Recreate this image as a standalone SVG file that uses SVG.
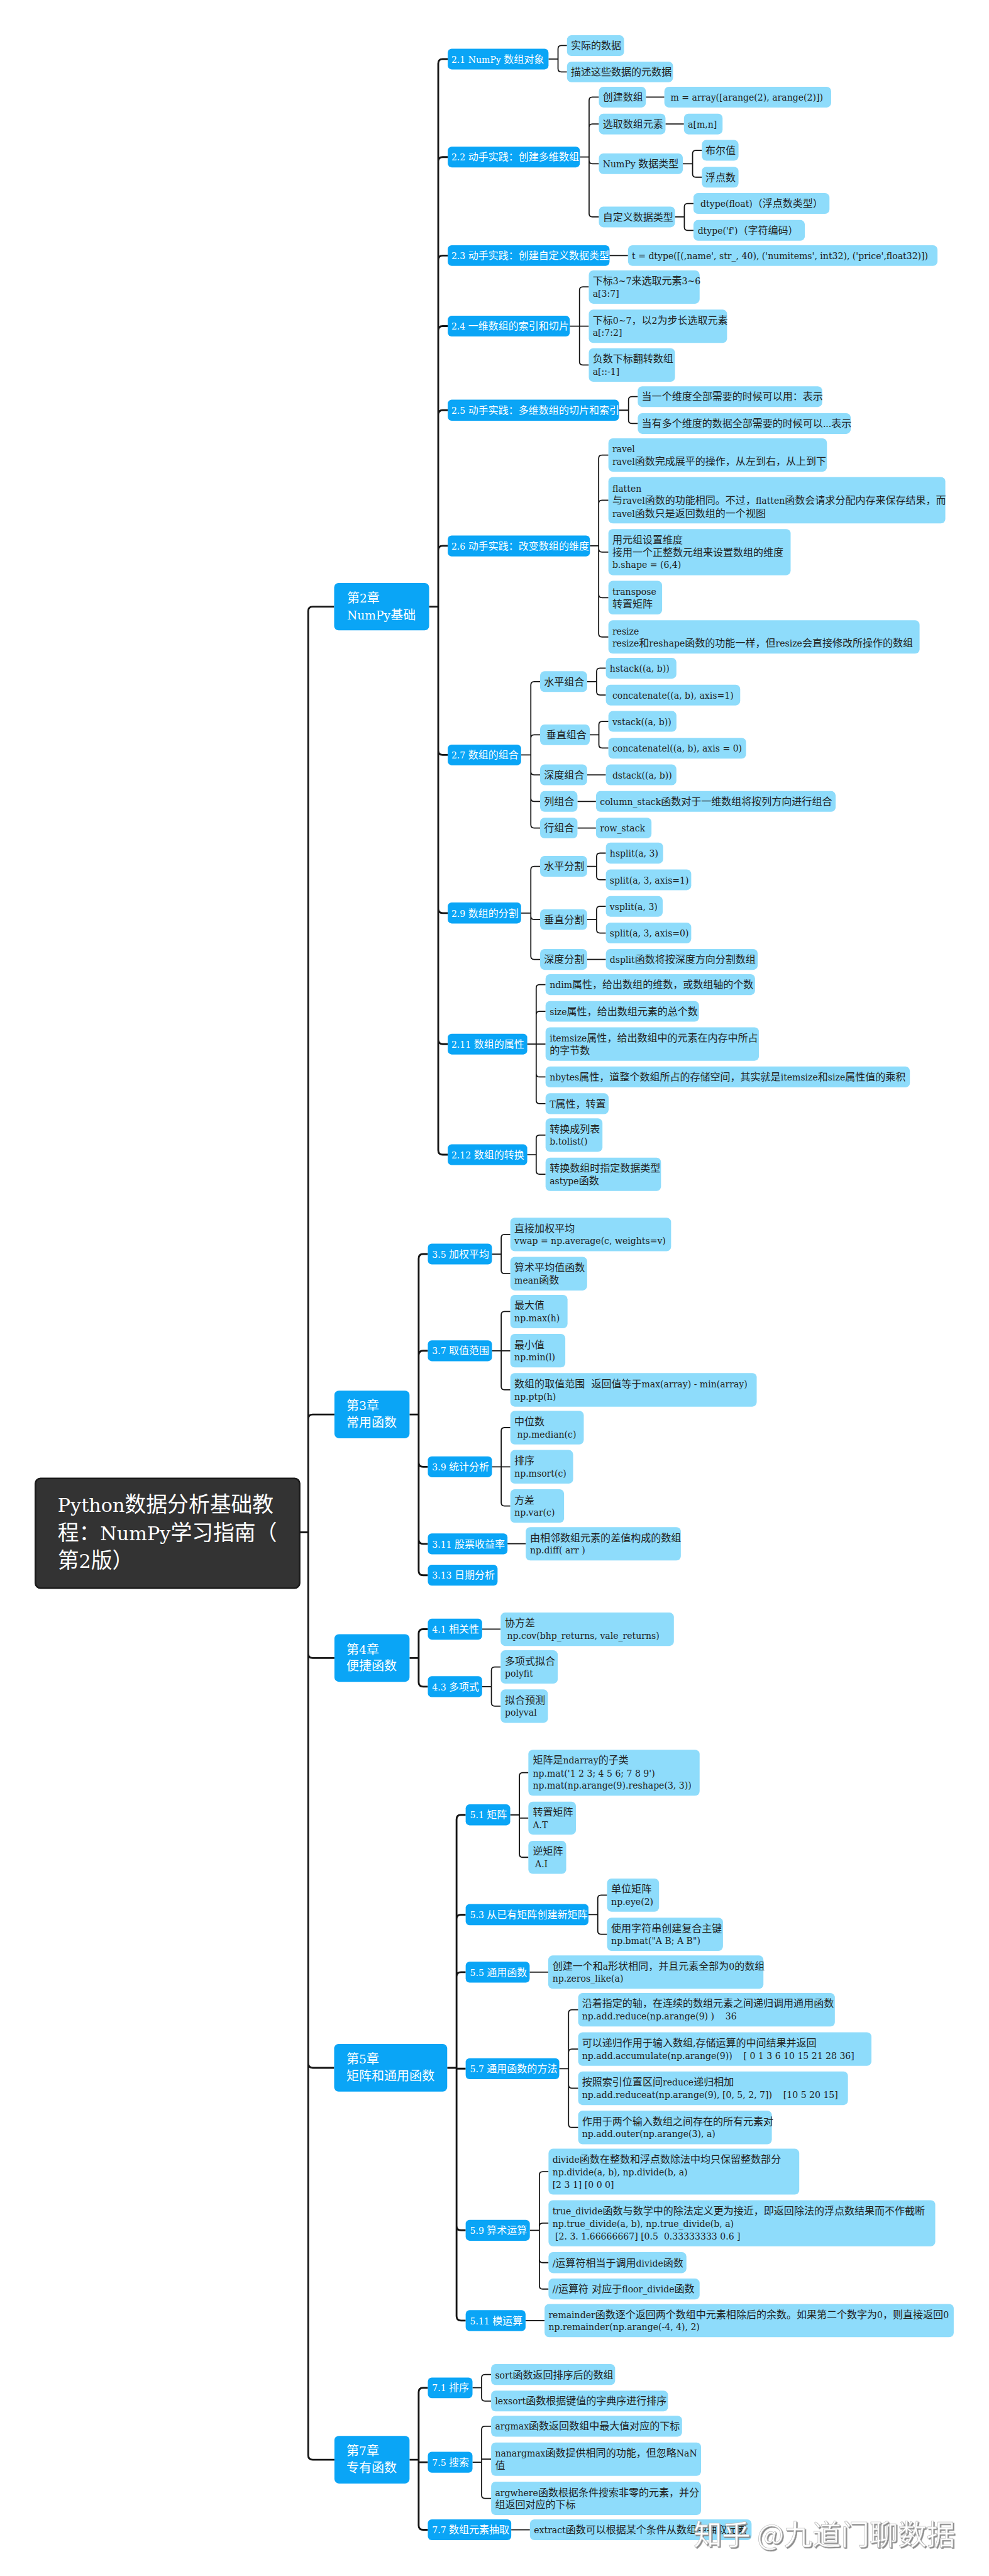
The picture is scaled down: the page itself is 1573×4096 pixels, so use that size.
<svg xmlns="http://www.w3.org/2000/svg" width="1573" height="4096" viewBox="0 0 1573 4096">
<defs>
<style>
text{font-family:"DejaVu Serif","Noto Sans CJK SC",sans-serif;font-size:18px;fill:#222}
.l{font-size:15.8px}
.a rect{fill:#8edcfb}
.b rect{fill:#0aa5f6}
.b text{fill:#fff}
.c rect{fill:#0aa5f6}
.c text{fill:#fff;font-size:22.5px}
.c .l{font-size:21px}
.r rect{fill:#333;stroke:#1a1a1a;stroke-width:3}
.r text{fill:#fff;font-size:38px}
.r .l{font-size:34px}
.k{fill:none;stroke:#151515;stroke-width:3.2}
.s{fill:none;stroke:#151515;stroke-width:2}
.wm{font-family:"Noto Sans CJK SC",sans-serif;font-size:51px;fill:#fff;stroke:#bbb;stroke-width:.8;filter:url(#ws)}
</style>
<filter id="ws" x="-5%" y="-20%" width="110%" height="140%"><feDropShadow dx="2" dy="2" stdDeviation=".6" flood-color="#888"/></filter>
</defs>
<rect width="1573" height="4096" fill="#fff"/>
<g transform="scale(.8902)">
<g id="connectors">
<path class="k" d="M535.4 2737H550.7M550.7 2737V1091.6q0-8 8-8H597M550.7 2737V2534.5q0-8 8-8H597.5M550.7 2737V2953.5q0 8 8 8H597.5M550.7 2737V3685.5q0 8 8 8H597M550.7 2737V4385.5q0 8 8 8H597.5"/>
<path class="k" d="M766.7 1083.6H783M783 1083.6V113.5q0-8 8-8H800M783 1083.6V288.5q0-8 8-8H800M783 1083.6V464.5q0-8 8-8H800M783 1083.6V590.5q0-8 8-8H800M783 1083.6V740.7q0-8 8-8H800M783 1083.6V983q0-8 8-8H800M783 1083.6V1340.5q0 8 8 8H800M783 1083.6V1623q0 8 8 8H800M783 1083.6V1857q0 8 8 8H800M783 1083.6V2054.5q0 8 8 8H800"/>
<path class="k" d="M731.7 2526.5H748M748 2526.5V2248q0-8 8-8H764.4M748 2526.5V2420.7q0-8 8-8H764.4M748 2526.5V2612q0 8 8 8H764.4M748 2526.5V2749.7q0 8 8 8H764.4M748 2526.5V2805.7q0 8 8 8H764.4"/>
<path class="k" d="M731.7 2961.5H748M748 2961.5V2918q0-8 8-8H764.4M748 2961.5V3004.7q0 8 8 8H764.4"/>
<path class="k" d="M799 3693.5H815.7M815.7 3693.5V3249.7q0-8 8-8H832M815.7 3693.5V3428q0-8 8-8H832M815.7 3693.5V3530.7q0-8 8-8H832M815.7 3695H832M815.7 3693.5V3975.7q0 8 8 8H832M815.7 3693.5V4137q0 8 8 8H832"/>
<path class="k" d="M731.7 4393.5H748M748 4393.5V4273q0-8 8-8H764.4M748 4393.5V4398H764.4M748 4393.5V4510.7q0 8 8 8H764.4"/>
<path class="s" d="M980 105.5H997M997 105.5V87.3q0-6 6-6H1013M997 105.5V122.5q0 6 6 6H1013"/>
<path class="s" d="M1036 280.5H1052.5M1052.5 280.5V179.5q0-6 6-6H1070M1052.5 280.5V227.5q0-6 6-6H1070M1052.5 280.5V286.5q0 6 6 6H1070M1052.5 280.5V381.5q0 6 6 6H1070"/>
<path class="s" d="M1154 173.5H1187M1189 221.5H1222"/>
<path class="s" d="M1220 292.5H1237.4M1237.4 292.5V274.5q0-6 6-6H1254M1237.4 292.5V310.5q0 6 6 6H1254"/>
<path class="s" d="M1206 387.5H1222.7M1222.7 387.5V369.5q0-6 6-6H1239M1222.7 387.5V405.5q0 6 6 6H1239"/>
<path class="s" d="M1089 456.5H1122"/>
<path class="s" d="M1018 582.5H1035.4M1035.4 582.5V518.5q0-6 6-6H1052M1035.4 582.5H1052M1035.4 582.5V646q0 6 6 6H1052"/>
<path class="s" d="M1106 732.7H1123M1123 732.7V714.5q0-6 6-6H1139.5M1123 732.7V750.5q0 6 6 6H1139.5"/>
<path class="s" d="M1054 975H1069.6M1069.6 975V818.8q0-6 6-6H1087M1069.6 975V899.5q0-6 6-6H1087M1069.6 975V980.2q0 6 6 6H1087M1069.6 975V1061.5q0 6 6 6H1087M1069.6 975V1131.7q0 6 6 6H1087"/>
<path class="s" d="M931 1348.5H948.4M948.4 1348.5V1223.5q0-6 6-6H965M948.4 1348.5V1318.5q0-6 6-6H965M948.4 1348.5V1378q0 6 6 6H965M948.4 1348.5V1425.5q0 6 6 6H965M948.4 1348.5V1473q0 6 6 6H965"/>
<path class="s" d="M1049 1217.5H1066M1066 1217.5V1199.5q0-6 6-6H1082.5M1066 1217.5V1235.5q0 6 6 6H1082.5"/>
<path class="s" d="M1053.7 1312.5H1070M1070 1312.5V1294.5q0-6 6-6H1087M1070 1312.5V1330q0 6 6 6H1087"/>
<path class="s" d="M1049 1384H1082.5M1031.7 1431.5H1064.8M1031.7 1479H1064.8"/>
<path class="s" d="M931 1631H948.4M948.4 1631V1553.5q0-6 6-6H965M948.4 1631V1636.5q0 6 6 6H965M948.4 1631V1707.7q0 6 6 6H965"/>
<path class="s" d="M1049 1547.5H1066M1066 1547.5V1529.8q0-6 6-6H1082.5M1066 1547.5V1565.5q0 6 6 6H1082.5"/>
<path class="s" d="M1049 1642.5H1066M1066 1642.5V1625q0-6 6-6H1082.5M1066 1642.5V1660.5q0 6 6 6H1082.5"/>
<path class="s" d="M1049 1713.7H1082.5"/>
<path class="s" d="M941.7 1865H958M958 1865V1764.7q0-6 6-6H974.7M958 1865V1812.5q0-6 6-6H974.7M958 1865H974.7M958 1865V1917.7q0 6 6 6H974.7M958 1865V1965.3q0 6 6 6H974.7"/>
<path class="s" d="M941.7 2062.5H958M958 2062.5V2033.5q0-6 6-6H974.7M958 2062.5V2091.5q0 6 6 6H974.7"/>
<path class="s" d="M879 2240H895.5M895.5 2240V2211q0-6 6-6H911.8M895.5 2240V2269q0 6 6 6H911.8"/>
<path class="s" d="M879 2412.7H895.5M895.5 2412.7V2348.7q0-6 6-6H911.8M895.5 2412.7H911.8M895.5 2412.7V2476.5q0 6 6 6H911.8"/>
<path class="s" d="M879 2620H895.5M895.5 2620V2556q0-6 6-6H911.8M895.5 2620H911.8M895.5 2620V2684q0 6 6 6H911.8"/>
<path class="s" d="M906.7 2757.5H939.4M861.4 2910H894.5"/>
<path class="s" d="M861.4 3012.7H878M878 3012.7V2983.5q0-6 6-6H894.5M878 3012.7V3041.5q0 6 6 6H894.5"/>
<path class="s" d="M911.6 3241.7H928M928 3241.7V3172.4q0-6 6-6H944M928 3241.7V3247.5H944M928 3241.7V3311.5q0 6 6 6H944"/>
<path class="s" d="M1051.4 3420H1068M1068 3420V3391q0-6 6-6H1084.6M1068 3420V3449q0 6 6 6H1084.6"/>
<path class="s" d="M946.3 3522.6H979.5"/>
<path class="s" d="M999.2 3695H1015.8M1015.8 3695V3595.8q0-6 6-6H1033M1015.8 3695V3666q0-6 6-6H1033M1015.8 3695V3724q0 6 6 6H1033M1015.8 3695V3794q0 6 6 6H1033"/>
<path class="s" d="M946.6 3983.7H963.7M963.7 3983.7V3885q0-6 6-6H980M963.7 3983.7V3977q0-6 6-6H980M963.7 3983.7V4035.5q0 6 6 6H980M963.7 3983.7V4082.7q0 6 6 6H980"/>
<path class="s" d="M939 4145H973"/>
<path class="s" d="M844.2 4265H860.5M860.5 4265V4247.3q0-6 6-6H877.5M860.5 4265V4282.7q0 6 6 6H877.5"/>
<path class="s" d="M844.2 4398H860.5M860.5 4398V4339.6q0-6 6-6H877.5M860.5 4392.5H877.5M860.5 4398V4456.5q0 6 6 6H877.5"/>
<path class="s" d="M913.4 4518.7H946.8"/>
</g>

<g id="root" class="r"><rect x="63.3" y="2640.7" width="472" height="196" rx="9"/>
<text x="103" y="2701"><tspan class="l">Python</tspan>数据分析基础教</text>
<text x="103" y="2751">程：<tspan class="l">NumPy</tspan>学习指南（</text>
<text x="103" y="2801">第<tspan class="l">2</tspan>版）</text></g>

<g id="ch2" class="c"><rect x="597" y="1041.3" width="169.7" height="84.7" rx="8"/><text x="620" y="1076">第<tspan class="l">2</tspan>章</text><text x="620" y="1106"><tspan class="l">NumPy</tspan>基础</text></g>
<g id="ch3" class="c"><rect x="597.5" y="2484" width="134.2" height="85" rx="8"/><text x="619" y="2519">第<tspan class="l">3</tspan>章</text><text x="619" y="2549">常用函数</text></g>
<g id="ch4" class="c"><rect x="597.5" y="2919" width="134.2" height="85" rx="8"/><text x="619" y="2954">第<tspan class="l">4</tspan>章</text><text x="619" y="2984">便捷函数</text></g>
<g id="ch5" class="c"><rect x="597" y="3651" width="202" height="85" rx="8"/><text x="619" y="3686">第<tspan class="l">5</tspan>章</text><text x="619" y="3716">矩阵和通用函数</text></g>
<g id="ch7" class="c"><rect x="597.5" y="4351" width="134.2" height="85" rx="8"/><text x="619" y="4386">第<tspan class="l">7</tspan>章</text><text x="619" y="4416">专有函数</text></g>

<g id="s2-1" class="b"><rect x="800" y="87" width="180" height="37" rx="7"/><text x="806.5" y="112"><tspan class="l">2.1 NumPy </tspan>数组对象</text></g>
<g id="s2-2" class="b"><rect x="800" y="262" width="236" height="37" rx="7"/><text x="806.5" y="287"><tspan class="l">2.2 </tspan>动手实践：创建多维数组</text></g>
<g id="s2-3" class="b"><rect x="800" y="438" width="289" height="37" rx="7"/><text x="806.5" y="463"><tspan class="l">2.3 </tspan>动手实践：创建自定义数据类型</text></g>
<g id="s2-4" class="b"><rect x="800" y="564" width="218" height="37" rx="7"/><text x="806.5" y="589"><tspan class="l">2.4 </tspan>一维数组的索引和切片</text></g>
<g id="s2-5" class="b"><rect x="800" y="714" width="306" height="37.5" rx="7"/><text x="806.5" y="739"><tspan class="l">2.5 </tspan>动手实践：多维数组的切片和索引</text></g>
<g id="s2-6" class="b"><rect x="800" y="956.5" width="254" height="37.5" rx="7"/><text x="806.5" y="981.5"><tspan class="l">2.6 </tspan>动手实践：改变数组的维度</text></g>
<g id="s2-7" class="b"><rect x="800" y="1330" width="131" height="37" rx="7"/><text x="806.5" y="1355"><tspan class="l">2.7 </tspan>数组的组合</text></g>
<g id="s2-9" class="b"><rect x="800" y="1612" width="131" height="37.5" rx="7"/><text x="806.5" y="1637.5"><tspan class="l">2.9 </tspan>数组的分割</text></g>
<g id="s2-11" class="b"><rect x="800" y="1846.5" width="142" height="37" rx="7"/><text x="806.5" y="1871.5"><tspan class="l">2.11 </tspan>数组的属性</text></g>
<g id="s2-12" class="b"><rect x="800" y="2044" width="142" height="37" rx="7"/><text x="806.5" y="2069"><tspan class="l">2.12 </tspan>数组的转换</text></g>
<g id="s3-5" class="b"><rect x="764.4" y="2221.4" width="114.6" height="37.2" rx="7"/><text x="772" y="2246.5"><tspan class="l">3.5 </tspan>加权平均</text></g>
<g id="s3-7" class="b"><rect x="764.4" y="2394" width="114.6" height="37.4" rx="7"/><text x="772" y="2419"><tspan class="l">3.7 </tspan>取值范围</text></g>
<g id="s3-9" class="b"><rect x="764.4" y="2601.4" width="114.6" height="37.2" rx="7"/><text x="772" y="2626.5"><tspan class="l">3.9 </tspan>统计分析</text></g>
<g id="s3-11" class="b"><rect x="764.4" y="2739" width="142.3" height="37.3" rx="7"/><text x="772" y="2764"><tspan class="l">3.11 </tspan>股票收益率</text></g>
<g id="s3-13" class="b"><rect x="764.4" y="2795" width="124.6" height="37.3" rx="7"/><text x="772" y="2820"><tspan class="l">3.13 </tspan>日期分析</text></g>
<g id="s4-1" class="b"><rect x="764.4" y="2891.3" width="97" height="37.4" rx="7"/><text x="772" y="2916.5"><tspan class="l">4.1 </tspan>相关性</text></g>
<g id="s4-3" class="b"><rect x="764.4" y="2994" width="97" height="37.3" rx="7"/><text x="772" y="3019"><tspan class="l">4.3 </tspan>多项式</text></g>
<g id="s5-1" class="b"><rect x="832" y="3223" width="79.6" height="37.4" rx="7"/><text x="839.7" y="3248"><tspan class="l">5.1 </tspan>矩阵</text></g>
<g id="s5-3" class="b"><rect x="832" y="3401" width="219.4" height="37.8" rx="7"/><text x="839.7" y="3426.5"><tspan class="l">5.3 </tspan>从已有矩阵创建新矩阵</text></g>
<g id="s5-5" class="b"><rect x="832" y="3504" width="114.3" height="37.4" rx="7"/><text x="839.7" y="3529"><tspan class="l">5.5 </tspan>通用函数</text></g>
<g id="s5-7" class="b"><rect x="832" y="3676.3" width="167.2" height="37.5" rx="7"/><text x="839.7" y="3701.5"><tspan class="l">5.7 </tspan>通用函数的方法</text></g>
<g id="s5-9" class="b"><rect x="832" y="3965" width="114.6" height="37.4" rx="7"/><text x="839.7" y="3990"><tspan class="l">5.9 </tspan>算术运算</text></g>
<g id="s5-11" class="b"><rect x="832" y="4126.4" width="107" height="37.3" rx="7"/><text x="839.7" y="4151.5"><tspan class="l">5.11 </tspan>模运算</text></g>
<g id="s7-1" class="b"><rect x="764.4" y="4246.7" width="79.8" height="37" rx="7"/><text x="772" y="4271.5"><tspan class="l">7.1 </tspan>排序</text></g>
<g id="s7-5" class="b"><rect x="764.4" y="4379.3" width="79.8" height="37.4" rx="7"/><text x="772" y="4404.5"><tspan class="l">7.5 </tspan>搜索</text></g>
<g id="s7-7" class="b"><rect x="764.4" y="4500" width="149" height="37.3" rx="7"/><text x="772" y="4525"><tspan class="l">7.7 </tspan>数组元素抽取</text></g>

<g id="n1" class="a"><rect x="1013" y="63" width="102" height="37" rx="8"/><text x="1020" y="88">实际的数据</text></g>
<g id="n2" class="a"><rect x="1013" y="110" width="189.5" height="37" rx="8"/><text x="1020" y="135">描述这些数据的元数据</text></g>
<g id="n3" class="a"><rect x="1070" y="155" width="84" height="37" rx="8"/><text x="1077" y="180">创建数组</text></g>
<g id="n4" class="a"><rect x="1187" y="155" width="298" height="37" rx="8"/><text class="l" x="1198" y="180">m = array([arange(2), arange(2)])</text></g>
<g id="n5" class="a"><rect x="1070" y="203" width="119" height="37" rx="8"/><text x="1077" y="228">选取数组元素</text></g>
<g id="n6" class="a"><rect x="1222" y="203" width="69" height="37" rx="8"/><text class="l" x="1229" y="228">a[m,n]</text></g>
<g id="n7" class="a"><rect x="1070" y="274" width="150" height="37" rx="8"/><text x="1077" y="299"><tspan class="l">NumPy </tspan>数据类型</text></g>
<g id="n8" class="a"><rect x="1254" y="250" width="65.5" height="37" rx="8"/><text x="1260.5" y="275">布尔值</text></g>
<g id="n9" class="a"><rect x="1254" y="298" width="65.5" height="37" rx="8"/><text x="1260.5" y="323">浮点数</text></g>
<g id="n10" class="a"><rect x="1070" y="369" width="136" height="37" rx="8"/><text x="1077" y="394">自定义数据类型</text></g>
<g id="n11" class="a"><rect x="1239" y="345" width="243" height="37" rx="8"/><text x="1251.5" y="370"><tspan class="l">dtype(float)</tspan>（浮点数类型）</text></g>
<g id="n12" class="a"><rect x="1239" y="393" width="199" height="37" rx="8"/><text x="1246.5" y="418"><tspan class="l">dtype('f')</tspan>（字符编码）</text></g>
<g id="n13" class="a"><rect x="1122" y="438" width="553" height="37" rx="8"/><text class="l" x="1129" y="463">t = dtype([(,name', str_, 40), ('numitems', int32), ('price',float32)])</text></g>
<g id="n14" class="a"><rect x="1052" y="483" width="198" height="59.5" rx="8"/><text x="1059" y="508">下标<tspan class="l">3~7</tspan>来选取元素<tspan class="l">3~6</tspan></text><text class="l" x="1059" y="530">a[3:7]</text></g>
<g id="n15" class="a"><rect x="1052" y="553" width="247" height="59.5" rx="8"/><text x="1059" y="578">下标<tspan class="l">0~7</tspan>，以<tspan class="l">2</tspan>为步长选取元素</text><text class="l" x="1059" y="600">a[:7:2]</text></g>
<g id="n16" class="a"><rect x="1052" y="622" width="154" height="60" rx="8"/><text x="1059" y="647.5">负数下标翻转数组</text><text class="l" x="1059" y="669.5">a[::-1]</text></g>
<g id="n17" class="a"><rect x="1139.5" y="690" width="329.5" height="37" rx="8"/><text x="1146.5" y="715">当一个维度全部需要的时候可以用：表示</text></g>
<g id="n18" class="a"><rect x="1139.5" y="738" width="380.5" height="37" rx="8"/><text x="1146.5" y="763">当有多个维度的数据全部需要的时候可以<tspan class="l">...</tspan>表示</text></g>
<g id="n19" class="a"><rect x="1087" y="783" width="390.5" height="59.5" rx="8"/><text class="l" x="1094" y="808">ravel</text><text x="1094" y="830"><tspan class="l">ravel</tspan>函数完成展平的操作，从左到右，从上到下</text></g>
<g id="n20" class="a"><rect x="1087" y="852" width="602" height="83" rx="8"/><text class="l" x="1094" y="878">flatten</text><text x="1094" y="900">与<tspan class="l">ravel</tspan>函数的功能相同。不过，<tspan class="l">flatten</tspan>函数会请求分配内存来保存结果，而</text><text x="1094" y="923"><tspan class="l">ravel</tspan>函数只是返回数组的一个视图</text></g>
<g id="n21" class="a"><rect x="1087" y="945" width="325.6" height="82.5" rx="8"/><text x="1094" y="970.7">用元组设置维度</text><text x="1094" y="992.7">接用一个正整数元组来设置数组的维度</text><text class="l" x="1094" y="1014.7">b.shape = (6,4)</text></g>
<g id="n22" class="a"><rect x="1087" y="1037.5" width="96" height="60" rx="8"/><text class="l" x="1094" y="1063">transpose</text><text x="1094" y="1085">转置矩阵</text></g>
<g id="n23" class="a"><rect x="1087" y="1108" width="556" height="59.5" rx="8"/><text class="l" x="1094" y="1133">resize</text><text x="1094" y="1155"><tspan class="l">resize</tspan>和<tspan class="l">reshape</tspan>函数的功能一样，但<tspan class="l">resize</tspan>会直接修改所操作的数组</text></g>
<g id="n24" class="a"><rect x="965" y="1199" width="84" height="37" rx="8"/><text x="972" y="1224">水平组合</text></g>
<g id="n25" class="a"><rect x="1082.5" y="1175" width="126" height="37.3" rx="8"/><text class="l" x="1089.5" y="1200">hstack((a, b))</text></g>
<g id="n26" class="a"><rect x="1082.5" y="1223" width="240" height="37" rx="8"/><text class="l" x="1094" y="1248">concatenate((a, b), axis=1)</text></g>
<g id="n27" class="a"><rect x="965" y="1294" width="88.7" height="37" rx="8"/><text x="976" y="1319">垂直组合</text></g>
<g id="n28" class="a"><rect x="1087" y="1270" width="121.6" height="37" rx="8"/><text class="l" x="1094" y="1295">vstack((a, b))</text></g>
<g id="n29" class="a"><rect x="1087" y="1318" width="246" height="37" rx="8"/><text class="l" x="1094" y="1342.5">concatenatel((a, b), axis = 0)</text></g>
<g id="n30" class="a"><rect x="965" y="1365.5" width="84" height="37" rx="8"/><text x="972" y="1390.5">深度组合</text></g>
<g id="n31" class="a"><rect x="1082.5" y="1365.5" width="126" height="37" rx="8"/><text class="l" x="1094" y="1390.5">dstack((a, b))</text></g>
<g id="n32" class="a"><rect x="965" y="1413" width="66.7" height="37" rx="8"/><text x="972" y="1438">列组合</text></g>
<g id="n33" class="a"><rect x="1064.8" y="1413" width="428.2" height="37" rx="8"/><text x="1072" y="1438"><tspan class="l">column_stack</tspan>函数对于一维数组将按列方向进行组合</text></g>
<g id="n34" class="a"><rect x="965" y="1460.5" width="66.7" height="37" rx="8"/><text x="972" y="1485.5">行组合</text></g>
<g id="n35" class="a"><rect x="1064.8" y="1460.5" width="99.2" height="37" rx="8"/><text class="l" x="1072" y="1485.5">row_stack</text></g>
<g id="n36" class="a"><rect x="965" y="1529" width="84" height="37" rx="8"/><text x="972" y="1554">水平分割</text></g>
<g id="n37" class="a"><rect x="1082.5" y="1505" width="102.3" height="37.5" rx="8"/><text class="l" x="1089.5" y="1530">hsplit(a, 3)</text></g>
<g id="n38" class="a"><rect x="1082.5" y="1553" width="152.5" height="37" rx="8"/><text class="l" x="1089.5" y="1578">split(a, 3, axis=1)</text></g>
<g id="n39" class="a"><rect x="965" y="1624" width="84" height="37" rx="8"/><text x="972" y="1649">垂直分割</text></g>
<g id="n40" class="a"><rect x="1082.5" y="1600.5" width="101.5" height="37" rx="8"/><text class="l" x="1089.5" y="1625.5">vsplit(a, 3)</text></g>
<g id="n41" class="a"><rect x="1082.5" y="1648" width="152.5" height="37" rx="8"/><text class="l" x="1089.5" y="1673">split(a, 3, axis=0)</text></g>
<g id="n42" class="a"><rect x="965" y="1695" width="84" height="37.4" rx="8"/><text x="972" y="1720">深度分割</text></g>
<g id="n43" class="a"><rect x="1082.5" y="1695" width="271.3" height="37.4" rx="8"/><text x="1089.5" y="1720"><tspan class="l">dsplit</tspan>函数将按深度方向分割数组</text></g>
<g id="n44" class="a"><rect x="974.7" y="1740" width="374.3" height="37.3" rx="8"/><text x="982" y="1765"><tspan class="l">ndim</tspan>属性，给出数组的维数，或数组轴的个数</text></g>
<g id="n45" class="a"><rect x="974.7" y="1788" width="274.3" height="37" rx="8"/><text x="982" y="1813"><tspan class="l">size</tspan>属性，给出数组元素的总个数</text></g>
<g id="n46" class="a"><rect x="974.7" y="1835" width="381.3" height="59.7" rx="8"/><text x="982" y="1860.3"><tspan class="l">itemsize</tspan>属性，给出数组中的元素在内存中所占</text><text x="982" y="1882.3">的字节数</text></g>
<g id="n47" class="a"><rect x="974.7" y="1905" width="651" height="37.3" rx="8"/><text x="982" y="1930"><tspan class="l">nbytes</tspan>属性，道整个数组所占的存储空间，其实就是<tspan class="l">itemsize</tspan>和<tspan class="l">size</tspan>属性值的乘积</text></g>
<g id="n48" class="a"><rect x="974.7" y="1952.7" width="112.7" height="37.3" rx="8"/><text x="982" y="1978"><tspan class="l">T</tspan>属性，转置</text></g>
<g id="n49" class="a"><rect x="974.7" y="1997.7" width="101.7" height="59.6" rx="8"/><text x="982" y="2023">转换成列表</text><text class="l" x="982" y="2045">b.tolist()</text></g>
<g id="n50" class="a"><rect x="974.7" y="2067.7" width="206.3" height="59.6" rx="8"/><text x="982" y="2093">转换数组时指定数据类型</text><text x="982" y="2115"><tspan class="l">astype</tspan>函数</text></g>
<g id="n51" class="a"><rect x="911.8" y="2175" width="287.2" height="60" rx="8"/><text x="919" y="2200.5">直接加权平均</text><text class="l" x="919" y="2222.5">vwap = np.average(c, weights=v)</text></g>
<g id="n52" class="a"><rect x="911.8" y="2245" width="137.2" height="60" rx="8"/><text x="919" y="2270.5">算术平均值函数</text><text x="919" y="2292.5"><tspan class="l">mean</tspan>函数</text></g>
<g id="n53" class="a"><rect x="911.8" y="2313" width="102.2" height="59.5" rx="8"/><text x="919" y="2338">最大值</text><text class="l" x="919" y="2360">np.max(h)</text></g>
<g id="n54" class="a"><rect x="911.8" y="2382.5" width="98.2" height="60" rx="8"/><text x="919" y="2408">最小值</text><text class="l" x="919" y="2430">np.min(l)</text></g>
<g id="n55" class="a"><rect x="911.8" y="2452.5" width="440.2" height="60" rx="8"/><text x="919" y="2478">数组的取值范围&#160;&#160;返回值等于<tspan class="l">max(array) - min(array)</tspan></text><text class="l" x="919" y="2500">np.ptp(h)</text></g>
<g id="n56" class="a"><rect x="911.8" y="2520" width="131.2" height="60" rx="8"/><text x="919" y="2545.5">中位数</text><text class="l" x="924" y="2567.5">np.median(c)</text></g>
<g id="n57" class="a"><rect x="911.8" y="2590" width="112.2" height="60" rx="8"/><text x="919" y="2615.5">排序</text><text class="l" x="919" y="2637.5">np.msort(c)</text></g>
<g id="n58" class="a"><rect x="911.8" y="2660" width="96" height="60" rx="8"/><text x="919" y="2685.5">方差</text><text class="l" x="919" y="2707.5">np.var(c)</text></g>
<g id="n59" class="a"><rect x="939.4" y="2727.7" width="277" height="59.6" rx="8"/><text x="947" y="2753">由相邻数组元素的差值构成的数组</text><text class="l" x="947" y="2775">np.diff( arr )</text></g>
<g id="n60" class="a"><rect x="894.5" y="2880.3" width="309.5" height="59.7" rx="8"/><text x="902" y="2905.5">协方差</text><text class="l" x="906" y="2927.5">np.cov(bhp_returns, vale_returns)</text></g>
<g id="n61" class="a"><rect x="894.5" y="2947.7" width="102" height="59.6" rx="8"/><text x="902" y="2973">多项式拟合</text><text class="l" x="902" y="2995">polyfit</text></g>
<g id="n62" class="a"><rect x="894.5" y="3017.7" width="84.5" height="59.6" rx="8"/><text x="902" y="3043">拟合预测</text><text class="l" x="902" y="3065">polyval</text></g>
<g id="n63" class="a"><rect x="944" y="3125.4" width="306" height="82" rx="8"/><text x="952" y="3150"><tspan/>矩阵是<tspan class="l">ndarray</tspan>的子类</text><text class="l" x="952" y="3173">np.mat('1 2 3; 4 5 6; 7 8 9')</text><text class="l" x="952" y="3195">np.mat(np.arange(9).reshape(3, 3))</text></g>
<g id="n64" class="a"><rect x="944" y="3218" width="85" height="59" rx="8"/><text x="952" y="3243">转置矩阵</text><text class="l" x="952" y="3265">A.T</text></g>
<g id="n65" class="a"><rect x="944" y="3288" width="67.6" height="59" rx="8"/><text x="952" y="3313">逆矩阵</text><text class="l" x="956" y="3335">A.I</text></g>
<g id="n66" class="a"><rect x="1084.6" y="3355.4" width="92.9" height="59.3" rx="8"/><text x="1092" y="3380.5">单位矩阵</text><text class="l" x="1092" y="3402.5">np.eye(2)</text></g>
<g id="n67" class="a"><rect x="1084.6" y="3425.3" width="207.1" height="59.3" rx="8"/><text x="1092" y="3450.5">使用字符串创建复合主键</text><text class="l" x="1092" y="3472.5">np.bmat("A B; A B")</text></g>
<g id="n68" class="a"><rect x="979.5" y="3492.8" width="384.5" height="59.6" rx="8"/><text x="987" y="3518">创建一个和<tspan class="l">a</tspan>形状相同，并且元素全部为<tspan class="l">0</tspan>的数组</text><text class="l" x="987" y="3540">np.zeros_like(a)</text></g>
<g id="n69" class="a"><rect x="1033" y="3560" width="458.6" height="59.7" rx="8"/><text x="1040" y="3585">沿着指定的轴，在连续的数组元素之间递归调用通用函数</text><text class="l" x="1040" y="3607">np.add.reduce(np.arange(9) )&#160;&#160;&#160;&#160;36</text></g>
<g id="n70" class="a"><rect x="1033" y="3630" width="524" height="60" rx="8"/><text x="1040" y="3655.5">可以递归作用于输入数组<tspan class="l">,</tspan>存储运算的中间结果并返回</text><text class="l" x="1040" y="3677.5">np.add.accumulate(np.arange(9))&#160;&#160;&#160;&#160;[ 0 1 3 6 10 15 21 28 36]</text></g>
<g id="n71" class="a"><rect x="1033" y="3700" width="482" height="60" rx="8"/><text x="1040" y="3725.5">按照索引位置区间<tspan class="l">reduce</tspan>递归相加</text><text class="l" x="1040" y="3747.5">np.add.reduceat(np.arange(9), [0, 5, 2, 7])&#160;&#160;&#160;&#160;[10 5 20 15]</text></g>
<g id="n72" class="a"><rect x="1033" y="3770" width="346" height="60" rx="8"/><text x="1040" y="3795.5">作用于两个输入数组之间存在的所有元素对</text><text class="l" x="1040" y="3817.5">np.add.outer(np.arange(3), a)</text></g>
<g id="n73" class="a"><rect x="980" y="3838" width="448" height="82" rx="8"/><text x="987" y="3863.5"><tspan class="l">divide</tspan>函数在整数和浮点数除法中均只保留整数部分</text><text class="l" x="987" y="3885.5">np.divide(a, b), np.divide(b, a)</text><text class="l" x="987" y="3908">[2 3 1] [0 0 0]</text></g>
<g id="n74" class="a"><rect x="980" y="3930" width="691" height="82.4" rx="8"/><text x="987" y="3955.5"><tspan class="l">true_divide</tspan>函数与数学中的除法定义更为接近，即返回除法的浮点数结果而不作截断</text><text class="l" x="987" y="3977.5">np.true_divide(a, b), np.true_divide(b, a)</text><text class="l" x="992" y="4000">[2. 3. 1.66666667] [0.5&#160;&#160;0.33333333 0.6 ]</text></g>
<g id="n75" class="a"><rect x="980" y="4022.7" width="246.4" height="37.5" rx="8"/><text x="987" y="4048"><tspan class="l">/</tspan>运算符相当于调用<tspan class="l">divide</tspan>函数</text></g>
<g id="n76" class="a"><rect x="980" y="4070" width="270" height="37.3" rx="8"/><text x="987" y="4095"><tspan class="l">//</tspan>运算符 对应于<tspan class="l">floor_divide</tspan>函数</text></g>
<g id="n77" class="a"><rect x="973" y="4115.3" width="731" height="59.4" rx="8"/><text x="980" y="4140.5"><tspan class="l">remainder</tspan>函数逐个返回两个数组中元素相除后的余数。如果第二个数字为<tspan class="l">0</tspan>，则直接返回<tspan class="l">0</tspan></text><text class="l" x="980" y="4162.5">np.remainder(np.arange(-4, 4), 2)</text></g>
<g id="n78" class="a"><rect x="877.5" y="4222.7" width="221.5" height="37.3" rx="8"/><text x="884.5" y="4248"><tspan class="l">sort</tspan>函数返回排序后的数组</text></g>
<g id="n79" class="a"><rect x="877.5" y="4270" width="316" height="37.3" rx="8"/><text x="884.5" y="4295"><tspan class="l">lexsort</tspan>函数根据键值的字典序进行排序</text></g>
<g id="n80" class="a"><rect x="877.5" y="4315" width="341.1" height="37.3" rx="8"/><text x="884.5" y="4340"><tspan class="l">argmax</tspan>函数返回数组中最大值对应的下标</text></g>
<g id="n81" class="a"><rect x="877.5" y="4362.7" width="375.1" height="59.6" rx="8"/><text x="884.5" y="4388"><tspan class="l">nanargmax</tspan>函数提供相同的功能，但忽略<tspan class="l">NaN</tspan></text><text x="884.5" y="4410">值</text></g>
<g id="n82" class="a"><rect x="877.5" y="4432.7" width="375.1" height="59.6" rx="8"/><text x="884.5" y="4458"><tspan class="l">argwhere</tspan>函数根据条件搜索非零的元素，并分</text><text x="884.5" y="4480">组返回对应的下标</text></g>
<g id="n83" class="a"><rect x="946.8" y="4500" width="396" height="37.3" rx="8"/><text x="954" y="4525"><tspan class="l">extract</tspan>函数可以根据某个条件从数组中抽取元素</text></g>
<text class="wm" x="1239" y="4546">知乎 @九道门聊数据</text>
</g>
</svg>
